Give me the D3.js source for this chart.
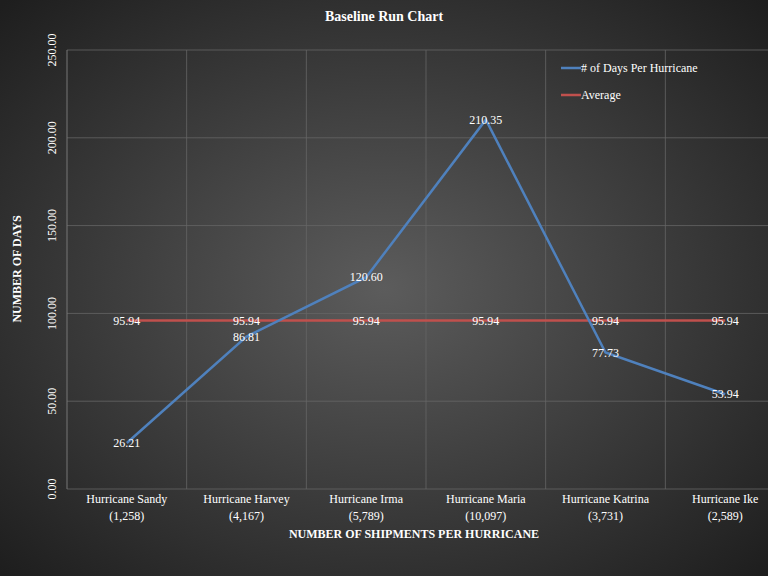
<!DOCTYPE html><html><head><meta charset="utf-8">
<script src="https://cdn.jsdelivr.net/npm/d3@7"></script>
<style>body{margin:0;background:#333}svg text{font-family:'Liberation Serif','DejaVu Serif','Times New Roman',serif !important;fill:#fff}</style></head><body>
<svg id="c" width="768" height="576" font-family="Liberation Serif, DejaVu Serif, serif"></svg>
<script>
const categories=[["Hurricane Sandy","(1,258)"],["Hurricane Harvey","(4,167)"],["Hurricane Irma","(5,789)"],["Hurricane Maria","(10,097)"],["Hurricane Katrina","(3,731)"],["Hurricane Ike","(2,589)"]];
const daysPerHurricane=[26.21,86.81,120.60,210.35,77.73,53.94];
const average=[95.94,95.94,95.94,95.94,95.94,95.94];
const yTicks=[0,50,100,150,200,250];
const svg=d3.select("#c");
const defs=svg.append("defs");
const g=defs.append("radialGradient").attr("id","bg").attr("cx","50%").attr("cy","50%").attr("r","70%");
g.append("stop").attr("offset","0%").attr("stop-color","#5c5c5c");
g.append("stop").attr("offset","100%").attr("stop-color","#1e1e1e");
svg.append("rect").attr("width",768).attr("height",576).attr("fill","url(#bg)");
const x=d3.scaleBand().domain(d3.range(6)).range([67,785]);
const y=d3.scaleLinear().domain([0,250]).range([489,50]);
const cx=i=>x(i)+x.bandwidth()/2;
svg.append("g").selectAll("line").data(d3.range(1,6)).join("line")
 .attr("x1",i=>x(i)).attr("x2",i=>x(i)).attr("y1",y(250)).attr("y2",y(0)).attr("stroke","#666").attr("stroke-width",0.8);
svg.append("g").selectAll("line").data(yTicks).join("line")
 .attr("x1",67).attr("x2",768).attr("y1",d=>y(d)).attr("y2",d=>y(d)).attr("stroke","#666").attr("stroke-width",0.8);
svg.append("line").attr("x1",67).attr("x2",67).attr("y1",y(250)).attr("y2",y(0)).attr("stroke","#777");
svg.append("g").selectAll("text").data(yTicks).join("text")
 .attr("transform",d=>`translate(56,${y(d)}) rotate(-90)`).attr("text-anchor","middle").attr("font-size",12).text(d=>d.toFixed(2));
const cat=svg.append("g").selectAll("text").data(categories).join("text").attr("text-anchor","middle").attr("font-size",12);
cat.append("tspan").attr("x",(d,i)=>cx(i)).attr("y",503).text(d=>d[0]);
cat.append("tspan").attr("x",(d,i)=>cx(i)).attr("y",520).text(d=>d[1]);
const line=d3.line().x((d,i)=>cx(i)).y(d=>y(d));
svg.append("path").attr("d",line(average)).attr("fill","none").attr("stroke","#c0504d").attr("stroke-width",2.5);
svg.append("path").attr("d",line(daysPerHurricane)).attr("fill","none").attr("stroke","#4f81bd").attr("stroke-width",2.5);
svg.append("g").selectAll("text").data(average).join("text").attr("x",(d,i)=>cx(i)).attr("y",d=>y(d)+4).attr("text-anchor","middle").attr("font-size",12).text(d=>d.toFixed(2));
svg.append("g").selectAll("text").data(daysPerHurricane).join("text").attr("x",(d,i)=>cx(i)).attr("y",d=>y(d)+4).attr("text-anchor","middle").attr("font-size",12).text(d=>d.toFixed(2));
svg.append("text").attr("x",384).attr("y",21).attr("text-anchor","middle").attr("font-size",14).attr("font-weight","bold").text("Baseline Run Chart");
svg.append("text").attr("x",414).attr("y",538).attr("text-anchor","middle").attr("font-size",12).attr("font-weight","bold").text("NUMBER OF SHIPMENTS PER HURRICANE");
svg.append("text").attr("transform","translate(21,269) rotate(-90)").attr("text-anchor","middle").attr("font-size",12).attr("font-weight","bold").text("NUMBER OF DAYS");
const leg=[["# of Days Per Hurricane","#4f81bd",68],["Average","#c0504d",95]];
leg.forEach(([t,c,yy])=>{svg.append("line").attr("x1",561).attr("x2",581).attr("y1",yy).attr("y2",yy).attr("stroke",c).attr("stroke-width",2.5);
svg.append("text").attr("x",581).attr("y",yy+4).attr("font-size",12).text(t);});
</script></body></html>
